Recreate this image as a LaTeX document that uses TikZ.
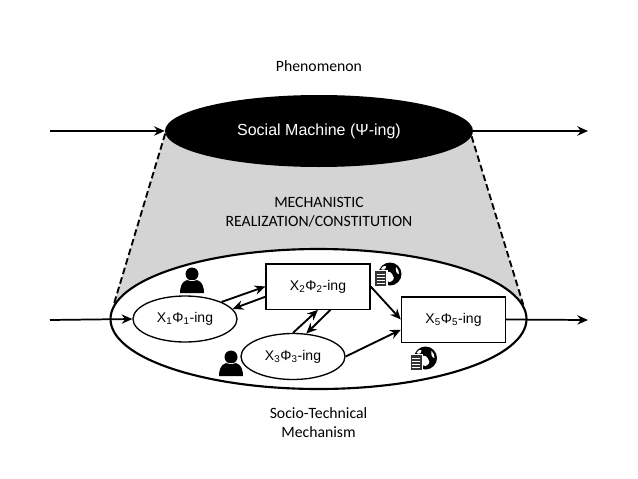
\documentclass[tikz,border=0pt]{standalone}
\usepackage{fontspec}
\setmainfont{Carlito}
\newfontfamily\arialfont{Liberation Sans}
\usetikzlibrary{arrows.meta,positioning,shapes.geometric,backgrounds}
\tikzset{
  person/.pic={
    \fill[black] (0,-9) circle (6.5);
    \fill[black] (-12,10) .. controls (-12,-1) and (-6,-4) .. (0,-4) .. controls (6,-4) and (12,-1) .. (12,10) -- cycle;
    \draw[white,line width=0.5pt] (-5,-3.5) .. controls (-2,-2) and (2,-2) .. (5,-3.5);
  },
  docglobe/.pic={
    \fill[black] (0,0) circle (11.5);
    \fill[white] (-3,-2) .. controls (0,-3) and (2,-1) .. (3,2) .. controls (5,4) and (3,7) .. (0,8) .. controls (-3,8) and (-5,5) .. (-5,1) -- cycle;
    \fill[white] (6,-7) .. controls (8,-5) and (9,-3) .. (9,0) .. controls (7,0) and (5,-3) .. (6,-7) -- cycle;
    \fill[white] (-9,-5) .. controls (-7,-8) and (-5,-9) .. (-4,-8) .. controls (-4,-5) and (-6,-3) .. (-9,-5) -- cycle;
    \fill[white] (-16.5,-4.5) rectangle (-2.5,13.5);
    \fill[black!80] (-15,-3) rectangle (-4,12);
    \foreach \yy in {0,3,6,9} \draw[white,line width=0.5pt] (-13.5,\yy) -- (-5.5,\yy);
  }
}
\begin{document}
\begin{tikzpicture}[x=0.75pt,y=-0.75pt,>=Stealth,
  title/.style={align=center,font=\fontsize{11.8}{14.25}\selectfont,inner sep=0pt},
  task/.style={draw,font=\arialfont\fontsize{10.5}{12}\selectfont,line width=1pt,inner sep=0pt},
  oval/.style={task,ellipse,fill=white,minimum width=78pt,minimum height=34.5pt},
  boxed/.style={task,fill=white,minimum width=78pt,minimum height=34pt},
  link/.style={->,line width=1.4pt,-{Stealth[length=8pt,width=7pt]}},
  flow/.style={link,line width=1.3pt}]
  \useasboundingbox (0,0) rectangle (638,478);
  \node[ellipse,fill=black,text=white,minimum width=231pt,minimum height=54pt,inner sep=0pt,font=\arialfont\fontsize{12}{14}\selectfont] (machine) at (319,131) {Social Machine (Ψ-ing)};
  \node[ellipse,draw,fill=white,line width=1.6pt,minimum width=312pt,minimum height=105pt,inner sep=0pt] (mech) at (318.5,319) {};
  \node[title,above=17pt of machine] (phen) {Phenomenon};
  \node[title,below=22pt of machine] (real) {MECHANISTIC\\REALIZATION/CONSTITUTION};
  \node[title,below=13pt of mech] (socio) {Socio-Technical\\Mechanism};
  \node[oval] (x1) at (185,319) {X\textsubscript{1}Φ\textsubscript{1}-ing};
  \node[boxed] (x2) at (318,286.5) {X\textsubscript{2}Φ\textsubscript{2}-ing};
  \node[oval] (x3) at (293,356.5) {X\textsubscript{3}Φ\textsubscript{3}-ing};
  \node[boxed] (x5) at (453.5,319.5) {X\textsubscript{5}Φ\textsubscript{5}-ing};
  \coordinate (inA) at (50,131);
  \coordinate (outA) at (588,131);
  \coordinate (inB) at (50,320);
  \coordinate (outB) at (588,320);
  \begin{scope}[on background layer]
    \fill[black!17] (machine.181.5) -- (machine.358.5) -- (mech.4) -- (mech.176) -- cycle;
    \draw[dash pattern=on 5pt off 2.5pt,line width=1.4pt] (machine.181.5) -- (mech.176);
    \draw[dash pattern=on 5pt off 2.5pt,line width=1.4pt] (machine.358.5) -- (mech.4);
  \end{scope}
  \draw[flow] (inA) -- (machine.west);
  \draw[flow] (machine.east) -- (outA);
  \draw[flow] (inB) -- (x1.west);
  \draw[flow] (x5.east) -- (outB);
  \draw[link] (x1.25) -- (x2.west);
  \draw[link] (x2.191) -- (x1.12);
  \draw[link] (x3.north) -- (x2.south);
  \draw[link] (x2.298) -- (x3.60);
  \draw[link] (x2.east) -- (x5.west);
  \draw[link] (x3.east) -- (x5.191);
  \pic at (192,283) {person};
  \pic at (231,366) {person};
  \pic at (390,274) {docglobe};
  \pic at (425.5,358) {docglobe};
\end{tikzpicture}
\end{document}
